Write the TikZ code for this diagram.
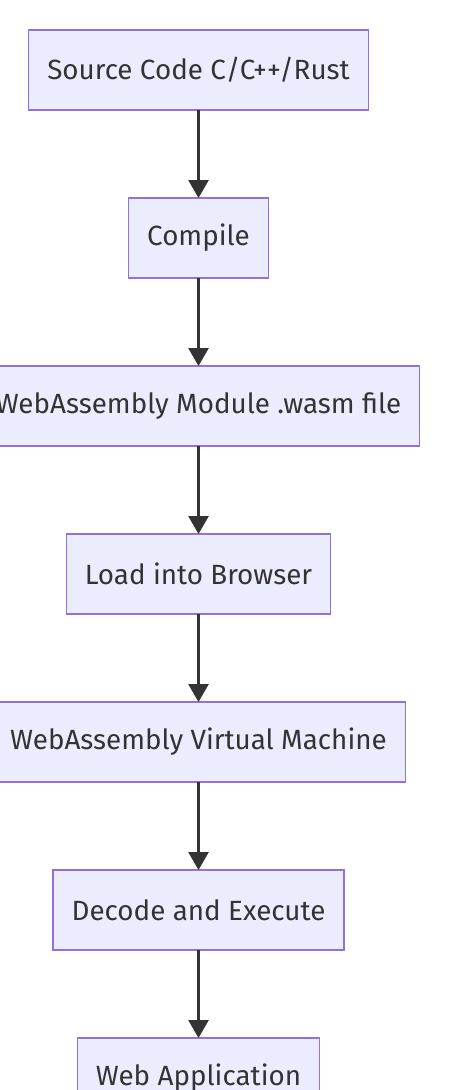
\documentclass[tikz,border=0pt]{standalone}
\usepackage{fontspec}
\setmainfont{Fira Sans}
\usetikzlibrary{positioning,arrows.meta}
\definecolor{boxfill}{HTML}{ECECFF}
\definecolor{boxline}{HTML}{9370DB}
\definecolor{edgecol}{HTML}{333333}

\begin{document}
\begin{tikzpicture}[x=1pt,y=1pt,
	flowbox/.style={ % 流程方框
		draw=boxline, fill=boxfill, line width=1.3pt, outer sep=0pt,
		minimum height=80pt, inner xsep=18.5pt,
		text=edgecol, font=\fontsize{27.8}{32}\selectfont
	},
	flow/.style={draw=edgecol, line width=2.6pt,
		-{Triangle[width=20pt,length=18pt]}},
	node distance=88pt
]
	\useasboundingbox (0,0) rectangle (463,-1090);
	%% 各个步骤
	\node[flowbox] (src) at (198.5,-70) {Source Code C/C++/Rust};
	\node[flowbox, below=of src] (comp) {Compile};
	\node[flowbox, below=of comp] (wasm) {WebAssembly Module .wasm file};
	\node[flowbox, below=of wasm] (load) {Load into Browser};
	\node[flowbox, below=of load] (vm) {WebAssembly Virtual Machine};
	\node[flowbox, below=of vm] (exec) {Decode and Execute};
	\node[flowbox, below=of exec] (app) {Web Application};
	% 对各个步骤连线
	\draw[flow] (src) -- (comp);
	\draw[flow] (comp) -- (wasm);
	\draw[flow] (wasm) -- (load);
	\draw[flow] (load) -- (vm);
	\draw[flow] (vm) -- (exec);
	\draw[flow] (exec) -- (app);
\end{tikzpicture}
\end{document}
